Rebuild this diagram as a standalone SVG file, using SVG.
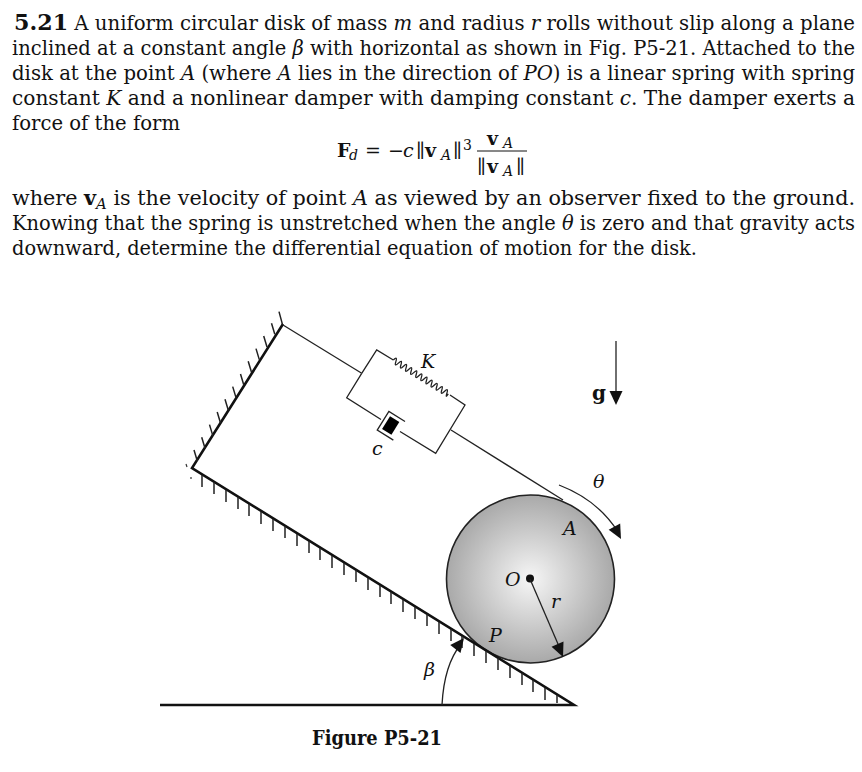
<svg xmlns="http://www.w3.org/2000/svg" width="862" height="772" viewBox="0 0 862 772">
<style>
text{font-family:"DejaVu Serif","Liberation Serif",serif;fill:#111}
.b{font-size:19.5px}
.i{font-style:italic}
.bd{font-weight:bold}
.l{font-size:19px;font-style:italic}
.ln{fill:none;stroke:#222;stroke-width:1.3}
.th{fill:none;stroke:#111;stroke-width:2.6}
.tk{fill:none;stroke:#222;stroke-width:1.5}
.m{font-size:19px}
.s{font-size:14px;font-style:italic}
</style>
<defs>
<radialGradient id="disk" cx="50%" cy="50%" r="50%"><stop offset="0" stop-color="#f6f6f6"/><stop offset="1" stop-color="#a9a9a9"/></radialGradient>
<path id="ah" d="M0 0L-14 -6.5L-14 6.5Z" fill="#111"/>
</defs>
<g id="problem-text">
<text class="b" x="14" y="30" textLength="841" lengthAdjust="spacingAndGlyphs"><tspan class="bd" font-size="22">5.21</tspan>  A uniform circular disk of mass <tspan class="i">m</tspan> and radius <tspan class="i">r</tspan> rolls without slip along a plane</text>
<text class="b" x="12" y="55" textLength="843" lengthAdjust="spacingAndGlyphs">inclined at a constant angle <tspan class="i">β</tspan> with horizontal as shown in Fig. P5-21. Attached to the</text>
<text class="b" x="12" y="80" textLength="843" lengthAdjust="spacingAndGlyphs">disk at the point <tspan class="i">A</tspan> (where <tspan class="i">A</tspan> lies in the direction of <tspan class="i">PO</tspan>) is a linear spring with spring</text>
<text class="b" x="12" y="105" textLength="843" lengthAdjust="spacingAndGlyphs">constant <tspan class="i">K</tspan> and a nonlinear damper with damping constant <tspan class="i">c</tspan>.  The damper exerts a</text>
<text class="b" x="12" y="130" textLength="168" lengthAdjust="spacingAndGlyphs">force of the form</text>
<text x="337" y="157" class="m bd">F</text><text x="349" y="160" class="s">d</text>
<text x="365" y="157" class="m">=</text>
<text x="388" y="157" class="m">−</text><text x="403" y="157" class="m i">c</text>
<text x="416" y="157" class="m">∥</text>
<text x="425" y="157" class="m bd">v</text><text x="441" y="160" class="s">A</text>
<text x="453" y="157" class="m">∥</text>
<text x="463" y="150" font-size="14">3</text>
<text x="487" y="145" class="m bd">v</text><text x="503" y="148" class="s">A</text>
<line x1="477" y1="151" x2="527" y2="151" stroke="#111" stroke-width="1"/>
<text x="477" y="173" class="m">∥</text>
<text x="487" y="173" class="m bd">v</text><text x="503" y="176" class="s">A</text>
<text x="516" y="173" class="m">∥</text>
<text class="b" x="12" y="205" textLength="843" lengthAdjust="spacingAndGlyphs">where <tspan class="bd">v</tspan><tspan class="i" font-size="14" dy="4">A</tspan><tspan dy="-4"> is the velocity of point </tspan><tspan class="i">A</tspan> as viewed by an observer fixed to the ground.</text>
<text class="b" x="12" y="230" textLength="843" lengthAdjust="spacingAndGlyphs">Knowing that the spring is unstretched when the angle <tspan class="i">θ</tspan> is zero and that gravity acts</text>
<text class="b" x="12" y="255" textLength="685" lengthAdjust="spacingAndGlyphs">downward, determine the differential equation of motion for the disk.</text>
</g>
<g id="disk-node">
<circle cx="530.5" cy="579" r="84" fill="url(#disk)" stroke="#222" stroke-width="1.6"/>
<circle cx="530" cy="578.500" r="4" fill="#111"/>
<text class="l" x="563" y="535">A</text>
<text class="l" x="505" y="586">O</text>
<text class="l" x="551" y="608">r</text>
<text class="l" x="489" y="642">P</text>
</g>
<g id="ground">
<path class="th" d="M160 705H574L192 468L283 324"/>
<path class="tk" d="M202 475v12M214 482v12M226 490v12M238 497v12M249 504v12M261 512v12M273 519v12M285 526v12M297 534v12M309 541v12M320 548v12M332 556v12M344 563v12M356 570v12M368 578v12M380 585v12M391 592v12M403 600v12M415 607v12M427 614v12M439 622v12M451 629v12M462 636v12M474 644v12M486 651v12M498 658v12M510 666v12M522 673v12M533 680v12M545 688v12M557 695v8"/>
<path class="tk" d="M197.300 461l-3.300 -11M205 448.300l-3.300 -11M212.800 435.600l-3.300 -11M220.500 423l-3.300 -11M228.300 410.300l-3.300 -11M236 397.600l-3.300 -11M243.800 385l-3.300 -11M251.500 372.300l-3.300 -11M259.300 359.600l-3.300 -11M267 347l-3.300 -11M274.800 334.300l-3.300 -11M282.500 324.600l-3.500 -13"/>
<path d="M186 464l1 3M191 477l0 2" stroke="#333" stroke-width="1.200" fill="none"/>
</g>
<g id="connectors">
<path class="ln" d="M283 325L361.700 373.300"/>
<path class="ln" d="M361.700 373.300L346.700 397.700L381 419.500M400 431.500L435.700 453.300L465 405L450 395"/>
<path class="ln" d="M361.700 373.300L376.700 350L393.300 360"/>
<g transform="translate(393.300 360) rotate(31.700)">
<path class="ln" stroke-width="1.500" d="M0 0q1.500 -6 3 0t3 0q1.500 -6 3 0t3 0q1.500 -6 3 0t3 0q1.500 -6 3 0t3 0q1.500 -6 3 0t3 0q1.500 -6 3 0t3 0q1.500 -6 3 0t3 0q1.500 -6 3 0t3 0q1.500 -6 3 0t3 0q1.500 -6 3 0t3 0q1.500 -6 3 0t1.600 0"/>
</g>
<path class="ln" d="M451 430L563 500"/>
<g transform="translate(390.700 425.500) rotate(32)">
<rect x="-5.500" y="-7.500" width="11" height="15" fill="#000"/>
<path class="ln" stroke-width="1.400" d="M10 -11H-9V11H10"/>
</g>
<path class="ln" d="M559 485Q598 500 618 532"/>
<use href="#ah" transform="translate(621 539) rotate(62)"/>
<path class="ln" d="M530 579L561 651"/>
<use href="#ah" transform="translate(563 657) rotate(67)"/>
<path class="ln" d="M442 705Q444 665 461 644"/>
<use href="#ah" transform="translate(464 638) rotate(-52)"/>
<path class="ln" d="M616 341V392"/>
<use href="#ah" transform="translate(616 405) rotate(90)"/>
</g>
<g id="labels">
<text class="l" x="421" y="368" font-size="20">K</text>
<text class="l" x="372" y="455">c</text>
<text class="l" x="593" y="488">θ</text>
<text class="l" x="424" y="676">β</text>
<text x="592" y="400" font-size="20" font-weight="bold">g</text>
<text x="312" y="745" font-size="20" font-weight="bold" textLength="130" lengthAdjust="spacingAndGlyphs">Figure P5-21</text>
</g>
</svg>
